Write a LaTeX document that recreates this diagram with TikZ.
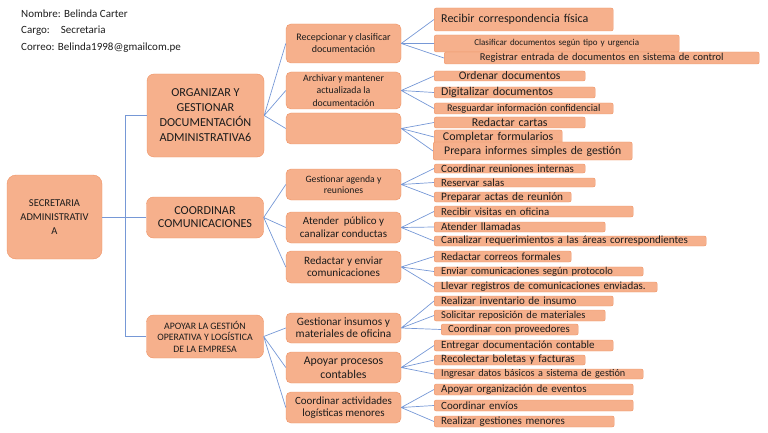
\documentclass[tikz,border=0pt]{standalone}
\usepackage{fontspec}
\setmainfont{Carlito}
\usetikzlibrary{positioning, calc}
\definecolor{cBox}{RGB}{246,176,140}
\definecolor{cEdge}{RGB}{238,146,100}
\definecolor{cLink}{RGB}{118,152,214}
\definecolor{cInk}{RGB}{28,28,28}
\tikzset{
    rootbox/.style={rectangle, rounded corners=9pt, minimum width=95pt, minimum height=84pt, text centered, align=center, draw=cEdge, fill=cBox, text=cInk, font=\fontsize{10.5}{14}\selectfont},
    mainbox/.style={rectangle, rounded corners=7pt, minimum width=117pt, text centered, align=center, draw=cEdge, fill=cBox, text=cInk, inner sep=1pt},
    subbox/.style ={rectangle, rounded corners=5pt, minimum width=115pt, text centered, align=center, draw=cEdge, fill=cBox, text=cInk, inner sep=1pt},
    leaf/.style   ={rectangle, rounded corners=2pt, anchor=west, align=left, inner xsep=7pt, inner ysep=0pt, draw=cEdge, fill=cBox, text=cInk, font=\fontsize{11}{11}\selectfont},
    link/.style   ={draw=cLink, line width=0.7pt},
    infotext/.style={anchor=west, inner sep=0pt, text=cInk, font=\fontsize{11}{12}\selectfont},
}

\begin{document}
\begin{tikzpicture}[x=1pt, y=-1pt]
        \useasboundingbox (0,0) rectangle (768,433);
        % header
        \node[infotext] (nom) at (21,14) {Nombre: Belinda Carter};
        \node[infotext] (car) at (21,31) {Cargo:\hspace{11pt}Secretaria};
        \node[infotext] (cor) at (21,48) {Correo: Belinda1998@gmailcom.pe};
        % root and main areas
        \node[rootbox] (root) at (54.5,217) {SECRETARIA\\ADMINISTRATIV\\A};
        \node[mainbox, minimum height=83pt, font=\fontsize{12.2}{15}\selectfont] (org) at (205.5,115.5) {ORGANIZAR Y\\GESTIONAR\\DOCUMENTACIÓN\\ADMINISTRATIVA6};
        \node[mainbox, minimum height=41pt, font=\fontsize{12.2}{13}\selectfont] (com) at (205,217.5) {COORDINAR\\COMUNICACIONES};
        \node[mainbox, minimum height=43pt, font=\fontsize{9.8}{11.5}\selectfont] (apo) at (205,336.5) {APOYAR LA GESTIÓN\\OPERATIVA Y LOGÍSTICA\\DE LA EMPRESA};
        \coordinate (spine) at (125,0);
        \draw[link] (root.east) -- (root.east -| spine);
        \draw[link] (org.west) -- (org.west -| spine) -- (apo.west -| spine) -- (apo.west);
        \draw[link] (com.west) -- (com.west -| spine);
        % sub tasks
        \node[subbox, minimum height=39pt, font=\fontsize{10}{12}\selectfont] (rec) at (343.5,43.5) {Recepcionar y clasificar\\documentación};
        \node[subbox, minimum height=37pt, font=\fontsize{9.8}{12.5}\selectfont] (arc) at (343.5,90.5) {Archivar y mantener\\actualizada la\\documentación};
        \node[subbox, minimum height=31pt] (emp) at (343.5,128.5) {};
        \node[subbox, minimum height=31pt, font=\fontsize{9.7}{11}\selectfont] (age) at (343.5,184.5) {Gestionar agenda y\\reuniones};
        \node[subbox, minimum height=31pt, font=\fontsize{11}{13}\selectfont] (ate) at (343.5,227.5) {Atender\ \ público y\\canalizar conductas};
        \node[subbox, minimum height=32pt, font=\fontsize{11.2}{12}\selectfont] (env) at (343.5,267) {Redactar y enviar\\comunicaciones};
        \node[subbox, minimum height=30pt, font=\fontsize{11.3}{12}\selectfont] (ins) at (343.5,328) {Gestionar insumos y\\materiales de oficina};
        \node[subbox, minimum height=31pt, font=\fontsize{11.8}{14}\selectfont] (pro) at (343.5,367.5) {Apoyar procesos\\contables};
        \node[subbox, minimum height=31pt, font=\fontsize{11}{12}\selectfont] (log) at (343.5,407.5) {Coordinar actividades\\logísticas menores};
        \draw[link] (org.east) -- (rec.west) (org.east) -- (arc.west) (org.east) -- (emp.west);
        \draw[link] (com.east) -- (age.west) (com.east) -- (ate.west) (com.east) -- (env.west);
        \draw[link] (apo.east) -- (ins.west) (apo.east) -- (pro.west) (apo.east) -- (log.west);
        % documentation
        \node[leaf, text width=165pt, minimum height=23pt, font=\fontsize{12}{12}\selectfont] (d1) at (434,19.5) {Recibir correspondencia física};
        \node[leaf, text width=231pt, minimum height=17pt, align=center, font=\fontsize{9}{9}\selectfont] (d2) at (434,43.5) {Clasificar documentos según tipo y urgencia};
        \node[leaf, text width=301pt, minimum height=12pt, align=center, font=\fontsize{10.5}{11}\selectfont] (d3) at (444,58) {Registrar entrada de documentos en sistema de control};
        \node[leaf, text width=137pt, minimum height=10pt, align=center, font=\fontsize{11.6}{12}\selectfont] (d4) at (434,76) {Ordenar documentos};
        \node[leaf, text width=147pt, minimum height=11pt, font=\fontsize{11.9}{12}\selectfont] (d5) at (434,92.5) {Digitalizar documentos};
        \node[leaf, text width=165pt, minimum height=11pt, align=center, font=\fontsize{10.2}{10}\selectfont] (d6) at (434,108.5) {Resguardar información confidencial};
        \node[leaf, text width=137pt, minimum height=11pt, align=center, font=\fontsize{11.9}{12}\selectfont] (d7) at (434,122.5) {Redactar cartas};
        \node[leaf, text width=114pt, minimum height=14pt, align=center, font=\fontsize{11.9}{12}\selectfont] (d8) at (434,137) {Completar formularios};
        \node[leaf, text width=185pt, minimum height=18pt, align=center, font=\fontsize{11.7}{12}\selectfont] (d9) at (433,151) {Prepara informes simples de gestión};
        \draw[link] (rec.east) -- (d1.west) (rec.east) -- (d2.west) (rec.east) -- (d3.west);
        \draw[link] (arc.east) -- (d4.west) (arc.east) -- (d5.west) (arc.east) -- (d6.west);
        \draw[link] (emp.east) -- (d7.west) (emp.east) -- (d8.west) (emp.east) -- (d9.west);
        % communications
        \node[leaf, text width=137pt, minimum height=9pt] (c1) at (434,168.5) {Coordinar reuniones internas};
        \node[leaf, text width=147pt, minimum height=9pt, font=\fontsize{10.8}{11}\selectfont] (c2) at (434,182.5) {Reservar salas};
        \node[leaf, text width=123pt, minimum height=10pt, font=\fontsize{11.3}{11}\selectfont] (c3) at (434,197) {Preparar actas de reunión};
        \node[leaf, text width=185pt, minimum height=11pt, font=\fontsize{10.8}{11}\selectfont] (c4) at (434,211.5) {Recibir visitas en oficina};
        \node[leaf, text width=157pt, minimum height=10pt] (c5) at (434,227) {Atender llamadas};
        \node[leaf, text width=258pt, minimum height=10pt] (c6) at (434,241) {Canalizar requerimientos a las áreas correspondientes};
        \node[leaf, text width=123pt, minimum height=11pt] (c7) at (434,256.5) {Redactar correos formales};
        \node[leaf, text width=195pt, minimum height=9pt, font=\fontsize{10.5}{11}\selectfont] (c8) at (434,271.5) {Enviar comunicaciones según protocolo};
        \node[leaf, text width=209pt, minimum height=10pt] (c9) at (434,287) {Llevar registros de comunicaciones enviadas.};
        \draw[link] (age.east) -- (c1.west) (age.east) -- (c2.west) (age.east) -- (c3.west);
        \draw[link] (ate.east) -- (c4.west) (ate.east) -- (c5.west) (ate.east) -- (c6.west);
        \draw[link] (env.east) -- (c7.west) (env.east) -- (c8.west) (env.east) -- (c9.west);
        % operations
        \node[leaf, text width=165pt, minimum height=10pt] (o1) at (434,301) {Realizar inventario de insumo};
        \node[leaf, text width=157pt, minimum height=11pt, font=\fontsize{10.5}{11}\selectfont] (o2) at (434,315.5) {Solicitar reposición de materiales};
        \node[leaf, text width=123pt, minimum height=11pt, font=\fontsize{10.8}{11}\selectfont] (o3) at (441,329.5) {Coordinar con proveedores};
        \node[leaf, text width=165pt, minimum height=11pt] (o4) at (434,345.5) {Entregar documentación contable};
        \node[leaf, text width=137pt, minimum height=10pt, font=\fontsize{11.2}{11}\selectfont] (o5) at (434,360) {Recolectar boletas y facturas};
        \node[leaf, text width=195pt, minimum height=10pt, font=\fontsize{10.2}{11}\selectfont] (o6) at (434,374) {Ingresar datos básicos a sistema de gestión};
        \node[leaf, text width=185pt, minimum height=11pt] (o7) at (434,389.5) {Apoyar organización de eventos};
        \node[leaf, text width=185pt, minimum height=11pt] (o8) at (434,405.5) {Coordinar envíos};
        \node[leaf, text width=166pt, minimum height=11pt] (o9) at (434,421.5) {Realizar gestiones menores};
        \draw[link] (ins.east) -- (o1.west) (ins.east) -- (o2.west) (ins.east) -- (o3.west);
        \draw[link] (pro.east) -- (o4.west) (pro.east) -- (o5.west) (pro.east) -- (o6.west);
        \draw[link] (log.east) -- (o7.west) (log.east) -- (o8.west) (log.east) -- (o9.west);
\end{tikzpicture}
\end{document}
